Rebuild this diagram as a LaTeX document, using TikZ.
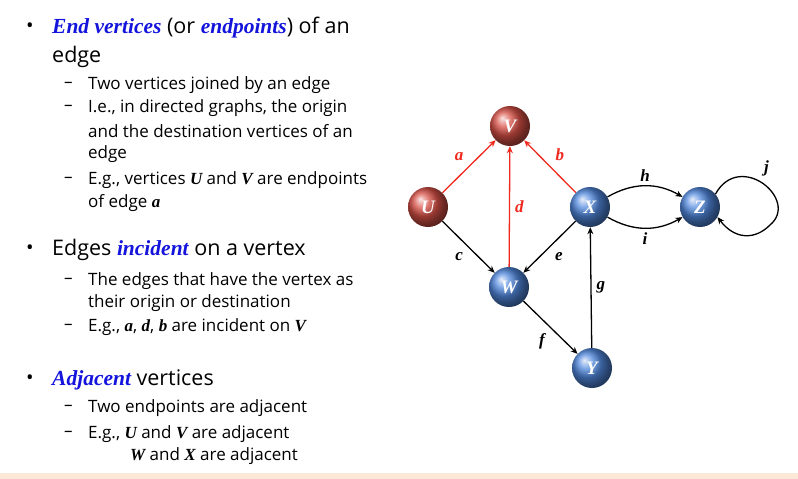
\documentclass[tikz,border=0pt]{standalone}
\usepackage{fontspec}
\setmainfont{Open Sans}
\newfontfamily\tms{Liberation Serif}
\usetikzlibrary{arrows.meta}
\definecolor{kwblue}{RGB}{20,20,220}
\definecolor{redv}{RGB}{215,80,70}
\definecolor{bluev}{RGB}{80,135,220}
\definecolor{edgered}{RGB}{240,40,30}
\definecolor{botband}{RGB}{251,232,214}
\newcommand{\kw}[1]{{\tms\bfseries\itshape\color{kwblue}#1}}
\newcommand{\mv}[1]{{\tms\bfseries\itshape #1}}
\begin{document}
\begin{tikzpicture}[x=1pt,y=-1pt,inner sep=0pt,
  vtx/.style={circle,minimum size=40pt,inner sep=0pt,text=white,font=\tms\bfseries\itshape\fontsize{19}{19}\selectfont},
  rv/.style={vtx,shading=ball,ball color=redv},
  bv/.style={vtx,shading=ball,ball color=bluev},
  ed/.style={-{Stealth[length=7pt,width=6pt]},line width=1.3pt},
  red/.style={ed,draw=edgered},
  lab/.style={inner sep=2pt,font=\tms\bfseries\itshape\fontsize{17}{17}\selectfont},
  big/.style={anchor=west,font=\fontsize{21.5}{24}\selectfont},
  sm/.style={anchor=west,font=\fontsize{17}{20}\selectfont},
  dot/.style={anchor=center,font=\fontsize{20}{20}\selectfont}]
\useasboundingbox (0,0) rectangle (798,479);
\fill[white] (0,0) rectangle (798,479);
\fill[botband] (0,473) rectangle (798,479);
% text
\node[dot] (b1) at (30,28) {•};
\node[big] (t1) at (52,28) {\kw{End vertices} (or \kw{endpoints}) of an};
\node[big] (t1b) at (52,57) {edge};
\node[sm] (d1) at (64,85) {–};
\node[sm] (s1) at (88,85) {Two vertices joined by an edge};
\node[sm] (d2) at (64,108) {–};
\node[sm] (s2) at (88,108) {I.e., in directed graphs, the origin};
\node[sm] (s2b) at (88,131) {and the destination vertices of an};
\node[sm] (s2c) at (88,154) {edge};
\node[sm] (d3) at (64,180) {–};
\node[sm] (s3) at (88,180) {E.g., vertices \mv{U} and \mv{V} are endpoints};
\node[sm] (s3b) at (88,203) {of edge \mv{a}};
\node[dot] (b2) at (30,250) {•};
\node[big] (t2) at (52,250) {Edges \kw{incident} on a vertex};
\node[sm] (d4) at (64,281) {–};
\node[sm] (s4) at (88,281) {The edges that have the vertex as};
\node[sm] (s4b) at (88,303) {their origin or destination};
\node[sm] (d5) at (64,327) {–};
\node[sm] (s5) at (88,327) {E.g., \mv{a}, \mv{d}, \mv{b} are incident on \mv{V}};
\node[dot] (b3) at (30,380) {•};
\node[big] (t3) at (52,380) {\kw{Adjacent} vertices};
\node[sm] (d6) at (64,408) {–};
\node[sm] (s6) at (88,408) {Two endpoints are adjacent};
\node[sm] (d7) at (64,434) {–};
\node[sm] (s7) at (88,434) {E.g., \mv{U} and \mv{V} are adjacent};
\node[sm] (s7b) at (130,456) {\mv{W} and \mv{X} are adjacent};
% graph
\node[rv] (V) at (510,126) {V};
\node[rv] (U) at (428,207) {U};
\node[bv] (X) at (590,207) {X};
\node[bv] (Z) at (700,207) {Z};
\node[bv] (W) at (509,287) {W};
\node[bv] (Y) at (592,368) {Y};
\draw[red] (U) -- node[lab,text=edgered,above left=3pt] {a} (V);
\draw[red] (W) -- node[lab,text=edgered,right=3pt,pos=0.5] {d} (V);
\draw[red] (X) -- node[lab,text=edgered,above right=3pt] {b} (V);
\draw[ed] (U) -- node[lab,below left=3pt] {c} (W);
\draw[ed] (X) -- node[lab,below right=3pt] {e} (W);
\draw[ed] (W) -- node[lab,below left=3pt] {f} (Y);
\draw[ed] (Y) -- node[lab,right=3pt] {g} (X);
\draw[ed] (X.30) to[bend left=30] node[lab,above=2pt] {h} (Z.150);
\draw[ed] (X.-30) to[bend right=30] node[lab,below=2pt] {i} (Z.-150);
\draw[ed] (Z.40) .. controls (740,150) and (800,200) .. (770,225) .. controls (755,240) and (735,240) .. (Z.-30);
\node[lab,anchor=south west] (jl) at (762,178) {j};
\end{tikzpicture}
\end{document}
